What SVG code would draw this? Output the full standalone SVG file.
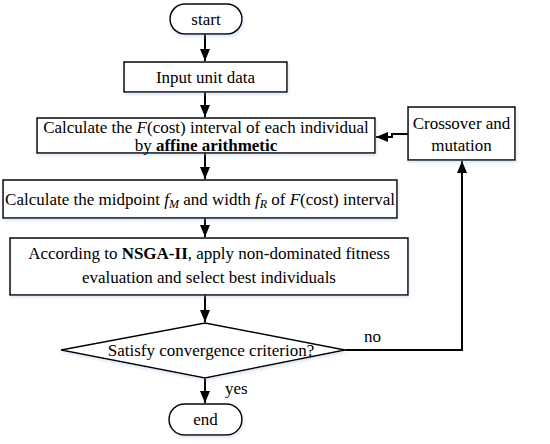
<svg xmlns="http://www.w3.org/2000/svg" width="550" height="444" viewBox="0 0 550 444">
<style>
text{font-family:"Liberation Serif","Times New Roman",serif;font-size:17px;fill:#000}
.b{fill:#fff;stroke:#000;stroke-width:1.5;filter:url(#sh)}
.c{fill:none;stroke:#000;stroke-width:2}
.bold{font-weight:bold}
.i{font-style:italic}
</style>
<defs>
<filter id="sh" x="-10%" y="-20%" width="120%" height="150%">
<feDropShadow dx="1" dy="2" stdDeviation="1.5" flood-color="#9bb8d8" flood-opacity="0.35"/>
</filter>
<marker id="ah" viewBox="0 0 12 10" refX="12" refY="5" markerWidth="12" markerHeight="10" markerUnits="userSpaceOnUse" orient="auto">
<path d="M0,0 L12,5 L0,10 Z" fill="#000"/>
</marker>
</defs>
<g id="connectors">
<line class="c" x1="205" y1="34" x2="205" y2="61" marker-end="url(#ah)"/>
<line class="c" x1="205" y1="92" x2="205" y2="117" marker-end="url(#ah)"/>
<line class="c" x1="205" y1="153" x2="205" y2="179" marker-end="url(#ah)"/>
<line class="c" x1="205" y1="218" x2="205" y2="237" marker-end="url(#ah)"/>
<line class="c" x1="205" y1="295" x2="205" y2="322" marker-end="url(#ah)"/>
<line class="c" x1="205" y1="378" x2="205" y2="403" marker-end="url(#ah)"/>
<polyline class="c" points="345,350 462,350 462,161" marker-end="url(#ah)"/>
<polyline class="c" points="408,134 392,134 392,137 376,137" marker-end="url(#ah)"/>
</g>
<g id="start">
<rect class="b" x="170" y="4" width="72" height="30" rx="15"/>
<text x="206" y="25" text-anchor="middle">start</text>
</g>
<g id="input">
<rect class="b" x="124" y="62" width="163" height="30"/>
<text x="205.5" y="83" text-anchor="middle">Input unit data</text>
</g>
<g id="calc-interval">
<rect class="b" x="37" y="118" width="338" height="35"/>
<text x="206" y="133" text-anchor="middle">Calculate the <tspan class="i">F</tspan>(cost) interval of each individual</text>
<text x="206" y="151" text-anchor="middle">by <tspan class="bold">affine arithmetic</tspan></text>
</g>
<g id="crossover">
<rect class="b" x="408" y="107" width="107" height="53"/>
<text x="461.5" y="129" text-anchor="middle">Crossover and</text>
<text x="461.5" y="151" text-anchor="middle">mutation</text>
</g>
<g id="midpoint">
<rect class="b" x="3" y="180" width="394" height="38"/>
<text x="200" y="205" text-anchor="middle">Calculate the midpoint <tspan class="i">f</tspan><tspan class="i" font-size="12" dy="3">M</tspan><tspan dy="-3"> and width </tspan><tspan class="i">f</tspan><tspan class="i" font-size="12" dy="3">R</tspan><tspan dy="-3"> of </tspan><tspan class="i">F</tspan>(cost) interval</text>
</g>
<g id="nsga">
<rect class="b" x="10" y="238" width="398" height="57"/>
<text x="209" y="259" text-anchor="middle">According to <tspan class="bold">NSGA-II</tspan>, apply non-dominated fitness</text>
<text x="209" y="283" text-anchor="middle">evaluation and select best individuals</text>
</g>
<g id="decision">
<polygon class="b" points="205,323 345,350 205,378 61,350"/>
<text x="211" y="356" text-anchor="middle">Satisfy convergence criterion?</text>
</g>
<g id="end">
<rect class="b" x="169" y="404" width="73" height="31" rx="15.5"/>
<text x="205.5" y="425" text-anchor="middle">end</text>
</g>
<g id="labels">
<text x="364" y="342">no</text>
<text x="225" y="394">yes</text>
</g>
</svg>
